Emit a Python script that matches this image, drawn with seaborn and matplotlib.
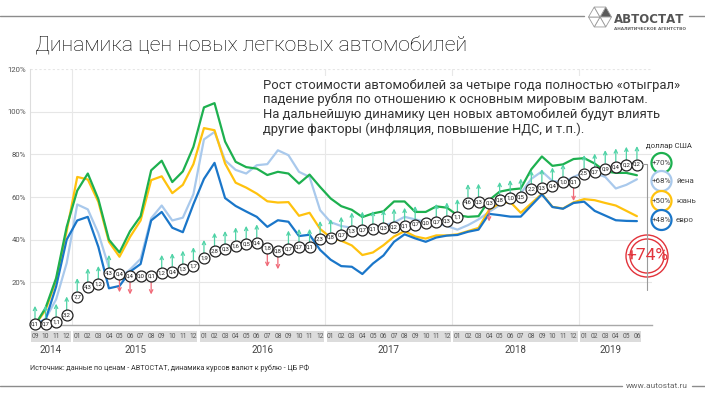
import numpy as np
import pandas as pd
import matplotlib
matplotlib.use("Agg")
import matplotlib.pyplot as plt
import seaborn as sns
from matplotlib.patches import Circle, Rectangle, Polygon

# ---------------- data ----------------
month_labels = ['09', '10', '11', '12'] + \
    ['01', '02', '03', '04', '05', '06', '07', '08', '09', '10', '11', '12'] * 4 + \
    ['01', '02', '03', '04', '05', '06']
years = ['2014', '2015', '2016', '2017', '2018', '2019']
year_sizes = [4, 12, 12, 12, 12, 6]

usd = [0, 8, 22, 46, 63, 71, 59, 40, 34, 44, 51, 72.5, 77, 67, 72, 83.5, 102, 104, 86, 76.5,
       74, 73.3, 70.3, 71.8, 71, 66.3, 70.5, 64.7, 59.3, 55.7, 54, 50.6, 52.3, 53.3, 57.9, 57.9,
       53, 53, 55.6, 55, 51.5, 50.7, 51, 58.5, 62.5, 63.5, 64, 73, 79, 74.6, 75.3, 77.8, 78.2,
       75.7, 72, 71.3, 71.3, 70.2]
jpy = [0, 3, 12, 29, 56.5, 54.2, 43, 27, 22, 26, 31, 50, 56, 49, 50.3, 61.3, 87, 90.5, 77.2, 72.7,
       71, 74.9, 75.4, 81.9, 79.6, 71.8, 69.4, 53.8, 48.2, 46.4, 45.6, 44.9, 45.6, 46.6, 48.1, 50.7,
       49.5, 48.4, 47.7, 46.4, 44.7, 46.8, 49.5, 53, 56.2, 58.5, 61.7, 68.5, 72, 67.5, 67, 69.4,
       71.5, 71.2, 69.4, 64, 65.7, 68.3]
cny = [0, 7, 21, 44, 69.4, 68.2, 57.7, 39, 32, 41.3, 49, 67.9, 69.7, 61.8, 65.7, 75.4, 92.3, 91.3,
       75.7, 66.7, 64.4, 61.6, 58, 57.4, 57.6, 51.2, 52.6, 45, 41, 39.5, 37.3, 32.8, 34, 37.4, 41.5,
       44, 41.5, 40.5, 42, 42, 42.5, 44, 45.5, 54, 57, 57.7, 52.6, 57, 61.5, 55.4, 54.6, 57.5, 59,
       58.5, 57.2, 56, 53.5, 51]
eur = [0, 2.5, 18, 40, 49, 50.7, 36.6, 17.2, 18.3, 25, 28.6, 49, 53, 45.6, 43.5, 56.6, 68.5, 76,
       59.5, 55.8, 53.2, 50.7, 46, 49.1, 48.4, 41.7, 42.3, 35.2, 30.6, 27.6, 27.3, 23.9, 28.8, 32.6,
       39, 42.5, 40.6, 39, 41, 41.9, 42.2, 43.7, 44.7, 52.1, 51.5, 50.8, 50.8, 56, 61.2, 55.3, 54.5,
       57.2, 57.8, 53.5, 51.3, 49.1, 48.8, 48.7]

# monthly change of new car prices, % (sign = arrow direction)
price_change = [0.1, 0.7, 1.1, 3.2, 7.7, 4.3, 1.2, 4.3, -0.4, -0.4, 0.0, -0.1, 1.2, 0.4, 1.3, 1.7,
                1.9, 2.8, 0.3, 1.6, 0.5, 0.4, -1.8, -0.8, 0.7, 0.7, 0.1, 2.3, 0.8, 0.7, 1.3, 0.7,
                0.1, 0.3, 0.2, 0.1, 0.7, 0.0, 0.7, 0.3, 1.1, 4.6, 0.3, -0.3, 0.8, 1.0, 0.5, 2.2,
                0.3, 0.4, 1.0, -0.1, 2.5, 0.7, 0.9, 0.4, 0.2, 0.2]
# cumulative price growth, % (vertical position of the circles)
price_index = [0.3, 0.5, 1.3, 4.7, 13.3, 17.9, 19.0, 24.2, 24.0, 23.0, 23.0, 23.0, 24.2, 25.0,
               26.2, 27.8, 31.2, 34.6, 35.4, 37.1, 37.8, 38.5, 35.9, 34.8, 35.6, 36.4, 36.4, 40.1,
               41.0, 42.1, 44.1, 44.5, 44.8, 45.3, 45.9, 46.3, 47.1, 47.6, 48.1, 48.8, 50.4, 57.4,
               57.6, 57.2, 58.4, 59.3, 60.0, 63.8, 64.4, 65.2, 66.8, 66.8, 71.0, 71.7, 73.3, 74.1,
               74.9, 75.2]

series_keys = ['jpy', 'cny', 'eur', 'usd']
end_labels = {'usd': '+70%', 'jpy': '+68%', 'cny': '+50%', 'eur': '+48%'}
currency_names = {'usd': 'доллар США', 'jpy': 'йена', 'cny': 'юань', 'eur': 'евро'}
total_label = '+74%'
yticks = [20, 40, 60, 80, 100, 120]

title = 'Динамика цен новых легковых автомобилей'
note = ('Рост стоимости автомобилей за четыре года полностью «отыграл»\n'
        'падение рубля по отношению к основным мировым валютам.\n'
        'На дальнейшую динамику цен новых автомобилей будут влиять\n'
        'другие факторы (инфляция, повышение НДС, и т.п.).')
source = 'Источник: данные по ценам - АВТОСТАТ, динамика курсов валют к рублю - ЦБ РФ'

# ---------------- style ----------------
colors = {'usd': '#1db04f', 'jpy': '#a9c9ec', 'cny': '#ffc20e', 'eur': '#1a76c9'}
UP = '#4fd3a6'
DOWN = '#f06a78'
RED = '#e2333b'
TXT = '#333333'

sns.set_theme(style='white')
FONT = ['Roboto', 'DejaVu Sans']
plt.rcParams['font.family'] = FONT

W, H = 705, 396
fig = plt.figure(figsize=(W / 100, H / 100), dpi=100)
fig.patch.set_facecolor('white')

# main axes in pixel geometry
ax_l, ax_r, ax_t, ax_b = 30, 652, 69, 325
ax = fig.add_axes([ax_l / W, (H - ax_b) / H, (ax_r - ax_l) / W, (ax_b - ax_t) / H])
x0, dx = 35.0, 10.56
ax.set_xlim((ax_l - x0) / dx, (ax_r - x0) / dx)
ax.set_ylim(0, 120)

n = len(month_labels)
idx = np.arange(n)
df = pd.DataFrame({'idx': np.tile(idx, 4),
                   'value': np.concatenate([jpy, cny, eur, usd]),
                   'cur': np.repeat(series_keys, n)})

# grid / frame
for yv in yticks:
    ax.axhline(yv, color='#e6e6e6', lw=0.8, zorder=0,
               ls=(0, (2, 2)) if yv == 120 else '-')
start = 0
bounds = []
for s in year_sizes[:-1]:
    start += s
    bounds.append(start - 0.5)
for b in bounds:
    ax.axvline(b, color='#e8e8e8', lw=0.8, zorder=0)
for sp in ['top', 'right']:
    ax.spines[sp].set_visible(False)
ax.spines['left'].set_color('#dddddd')
ax.spines['left'].set_linewidth(0.8)
ax.spines['bottom'].set_color('#a8a8a8')
ax.spines['bottom'].set_linewidth(1.0)

sns.lineplot(data=df, x='idx', y='value', hue='cur', hue_order=series_keys,
             palette=colors, legend=False, lw=1.6, ax=ax, zorder=2)

# price circles
ppd = (ax_b - ax_t) / 120.0  # px per percent
for i, (v, c) in enumerate(zip(price_index, price_change)):
    if c > 0:
        ax.annotate('', xy=(i, v + 18.5 / ppd), xytext=(i, v + 5.5 / ppd),
                    arrowprops=dict(arrowstyle='->', color=UP, lw=0.9,
                                    shrinkA=0, shrinkB=0, mutation_scale=6),
                    zorder=3, annotation_clip=False)
    elif c < 0:
        ax.annotate('', xy=(i, v - 18.5 / ppd), xytext=(i, v - 5.5 / ppd),
                    arrowprops=dict(arrowstyle='->', color=DOWN, lw=0.9,
                                    shrinkA=0, shrinkB=0, mutation_scale=6),
                    zorder=3, annotation_clip=False)
sns.scatterplot(x=idx, y=price_index, s=62, color='white', edgecolor='#222222',
                linewidth=0.9, ax=ax, zorder=4, clip_on=False, legend=False)
for i, (v, c) in enumerate(zip(price_index, price_change)):
    ax.text(i, v, f'{abs(c):.1f}'.replace('.', ','), ha='center', va='center',
            fontsize=4.3, color='#222222', zorder=5, clip_on=False)

# axes ticks
ax.set_xticks([])
ax.set_yticks(yticks)
ax.set_yticklabels([f'{t}%' for t in yticks], fontsize=5.6, color='#555555')
ax.tick_params(axis='y', length=0, pad=3)
ax.set_xlabel('')
ax.set_ylabel('')

# month boxes + labels + years
xt = ax.get_xaxis_transform()
gap = 0.12
start = 0
for yr, s in zip(years, year_sizes):
    ax.add_patch(Rectangle((start - 0.5 + gap, -0.0655), s - 2 * gap, 0.043,
                           transform=xt, clip_on=False, facecolor='#dcdcdc',
                           edgecolor='none'))
    ax.text(start + (s - 1) / 2, -0.097, yr, transform=xt, ha='center', va='center',
            fontsize=7, color='#444444')
    start += s
for i, m in enumerate(month_labels):
    ax.text(i, -0.044, m, transform=xt, ha='center', va='center', fontsize=4.8,
            color='#555555')

# ---------------- overlay (pixel coordinates) ----------------
ov = fig.add_axes([0, 0, 1, 1], zorder=10)
ov.set_xlim(0, W)
ov.set_ylim(H, 0)
ov.axis('off')
ov.patch.set_alpha(0)

# header line + logo
ov.plot([0, 584], [16, 16], color='#8c8c8c', lw=1.0)
ov.plot([689, W], [16, 16], color='#8c8c8c', lw=1.0)
cx, cy, r = 600, 17, 11.5
ang = np.deg2rad(np.arange(0, 360, 60) - 60)
pts = [(cx + r * np.cos(a), cy + r * np.sin(a)) for a in ang]
for k in range(6):
    p1, p2 = pts[k], pts[(k + 1) % 6]
    fc = '#5a5a5a' if k == 0 else 'white'
    ov.add_patch(Polygon([(cx, cy), p1, p2], closed=True, facecolor=fc,
                         edgecolor='#9a9a9a', lw=0.6))
ov.text(614, 23, 'АВТОСТАТ', fontsize=8.5, fontweight='bold', color='#555555',
        family=['DejaVu Sans'], ha='left', va='baseline')
ov.text(614, 29.5, 'АНАЛИТИЧЕСКОЕ АГЕНТСТВО', fontsize=3.1, fontweight='bold',
        color='#666666', family=['DejaVu Sans'], ha='left', va='center')

ov.text(35, 46, title, fontsize=15.3, fontweight='light', color='#000000',
        ha='left', va='center')
ov.text(263, 79, note, fontsize=9.4, fontweight='normal', color='#333333',
        ha='left', va='top', linespacing=1.15,
        bbox=dict(facecolor='white', edgecolor='none', pad=2))

# right legend
ov.text(669, 146, currency_names['usd'], fontsize=5.6, color=TXT, ha='center', va='center')
ring_pos = {'usd': 163, 'jpy': 181, 'cny': 201, 'eur': 220}
for key in ['usd', 'jpy', 'cny', 'eur']:
    yy = ring_pos[key]
    ov.add_patch(Circle((661.5, yy), 10, facecolor='white', edgecolor=colors[key], lw=1.6))
    ov.text(661.5, yy, end_labels[key], fontsize=5.8, color='#444444', ha='center',
            va='center')
    if key != 'usd':
        ov.text(676, yy, currency_names[key], fontsize=5.8, color='#444444', ha='left',
                va='center')

# total ring
ov.plot([642, 647, 647], [164, 164, 290], color='#9a9a9a', lw=0.8)
ov.add_patch(Circle((647, 256), 21, facecolor='white', edgecolor=RED, lw=1.0))
ov.add_patch(Circle((647, 256), 17, facecolor='none', edgecolor=RED, lw=1.0))
ov.text(647, 256, total_label, fontsize=12.5, fontweight='normal', color=RED,
        ha='center', va='center')

# footer
ov.text(30, 368, source, fontsize=5.2, color=TXT, ha='left', va='center')
ov.plot([0, 622], [386, 386], color='#8c8c8c', lw=1.0)
ov.plot([692, W], [386, 386], color='#8c8c8c', lw=1.0)
ov.text(657, 386, 'www.autostat.ru', fontsize=6, color='#666666', ha='center',
        va='center')

fig.savefig('out.png', dpi=100, facecolor='white')
